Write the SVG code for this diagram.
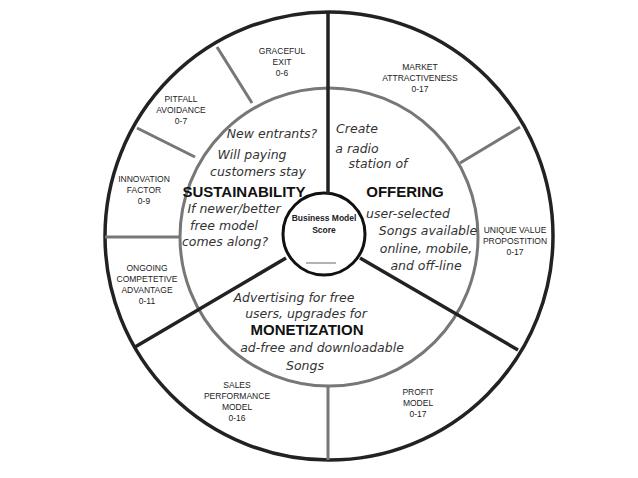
<svg xmlns="http://www.w3.org/2000/svg" width="638" height="478" viewBox="0 0 638 478">
<style>
.lbl{font-family:"Liberation Sans",Arial,sans-serif;font-size:8.5px;fill:#222;text-anchor:middle}
.big{font-family:"Liberation Sans",Arial,sans-serif;font-size:15px;font-weight:bold;fill:#111;text-anchor:middle}
.hw{font-family:"DejaVu Sans","Liberation Sans",sans-serif;font-style:italic;font-size:12.5px;fill:#333;text-anchor:middle}
.blk{stroke:#222;stroke-width:3.5;fill:none}
.gry{stroke:#777;stroke-width:3;fill:none}
</style>
<rect width="638" height="478" fill="#fff"/>
<g id="rings">
<circle cx="329" cy="236" r="224" fill="#fff" stroke="#222" stroke-width="3.5"/>
<circle cx="329" cy="237" r="149" class="gry"/>
<circle cx="324" cy="234" r="41" fill="#fff" stroke="#111" stroke-width="3"/>
</g>
<g id="connectors">
<line x1="328" y1="13" x2="328" y2="194" class="blk"/>
<line x1="135" y1="347" x2="286" y2="258" class="blk"/>
<line x1="518" y1="350" x2="360" y2="258" class="blk"/>
<line x1="217" y1="47" x2="252" y2="103" class="gry"/>
<line x1="137" y1="128" x2="195" y2="157" class="gry"/>
<line x1="105" y1="237" x2="180" y2="237" class="gry"/>
<line x1="520" y1="127" x2="460" y2="163" class="gry"/>
<line x1="328" y1="387" x2="328" y2="460" class="gry"/>
</g>
<g id="center">
<text class="lbl" font-weight="bold" x="324" y="221">Business Model</text>
<text class="lbl" font-weight="bold" x="324" y="233">Score</text>
<line x1="306" y1="263" x2="336" y2="263" stroke="#666" stroke-width="1"/>
</g>
<g id="graceful"><text class="lbl" x="282" y="54">GRACEFUL</text><text class="lbl" x="282" y="65">EXIT</text><text class="lbl" x="282" y="76">0-6</text></g>
<g id="market"><text class="lbl" x="420" y="70">MARKET</text><text class="lbl" x="420" y="81">ATTRACTIVENESS</text><text class="lbl" x="420" y="92">0-17</text></g>
<g id="pitfall"><text class="lbl" x="181" y="102">PITFALL</text><text class="lbl" x="181" y="113">AVOIDANCE</text><text class="lbl" x="181" y="124">0-7</text></g>
<g id="innovation"><text class="lbl" x="144" y="182">INNOVATION</text><text class="lbl" x="144" y="193">FACTOR</text><text class="lbl" x="144" y="204">0-9</text></g>
<g id="unique"><text class="lbl" x="515" y="233">UNIQUE VALUE</text><text class="lbl" x="515" y="244">PROPOSTITION</text><text class="lbl" x="515" y="255">0-17</text></g>
<g id="ongoing"><text class="lbl" x="147" y="271">ONGOING</text><text class="lbl" x="147" y="282">COMPETETIVE</text><text class="lbl" x="147" y="293">ADVANTAGE</text><text class="lbl" x="147" y="304">0-11</text></g>
<g id="sales"><text class="lbl" x="237" y="388">SALES</text><text class="lbl" x="237" y="399">PERFORMANCE</text><text class="lbl" x="237" y="410">MODEL</text><text class="lbl" x="237" y="421">0-16</text></g>
<g id="profit"><text class="lbl" x="418" y="395">PROFIT</text><text class="lbl" x="418" y="406">MODEL</text><text class="lbl" x="418" y="417">0-17</text></g>
<g id="sustainability">
<text class="big" x="244" y="197">SUSTAINABILITY</text>
<text class="hw" x="272" y="138">New entrants?</text>
<text class="hw" x="252" y="159">Will paying</text>
<text class="hw" x="258" y="176">customers stay</text>
<text class="hw" x="234" y="213">If newer/better</text>
<text class="hw" x="224" y="230">free model</text>
<text class="hw" x="225" y="246">comes along?</text>
</g>
<g id="offering">
<text class="big" x="405" y="197">OFFERING</text>
<text class="hw" x="357" y="133">Create</text>
<text class="hw" x="357" y="153">a radio</text>
<text class="hw" x="378" y="168">station of</text>
<text class="hw" x="408" y="218">user-selected</text>
<text class="hw" x="428" y="235">Songs available</text>
<text class="hw" x="426" y="253">online, mobile,</text>
<text class="hw" x="426" y="270">and off-line</text>
</g>
<g id="monetization">
<text class="big" x="307" y="335">MONETIZATION</text>
<text class="hw" x="294" y="302">Advertising for free</text>
<text class="hw" x="306" y="318">users, upgrades for</text>
<text class="hw" x="322" y="352">ad-free and downloadable</text>
<text class="hw" x="305" y="370">Songs</text>
</g>
</svg>
